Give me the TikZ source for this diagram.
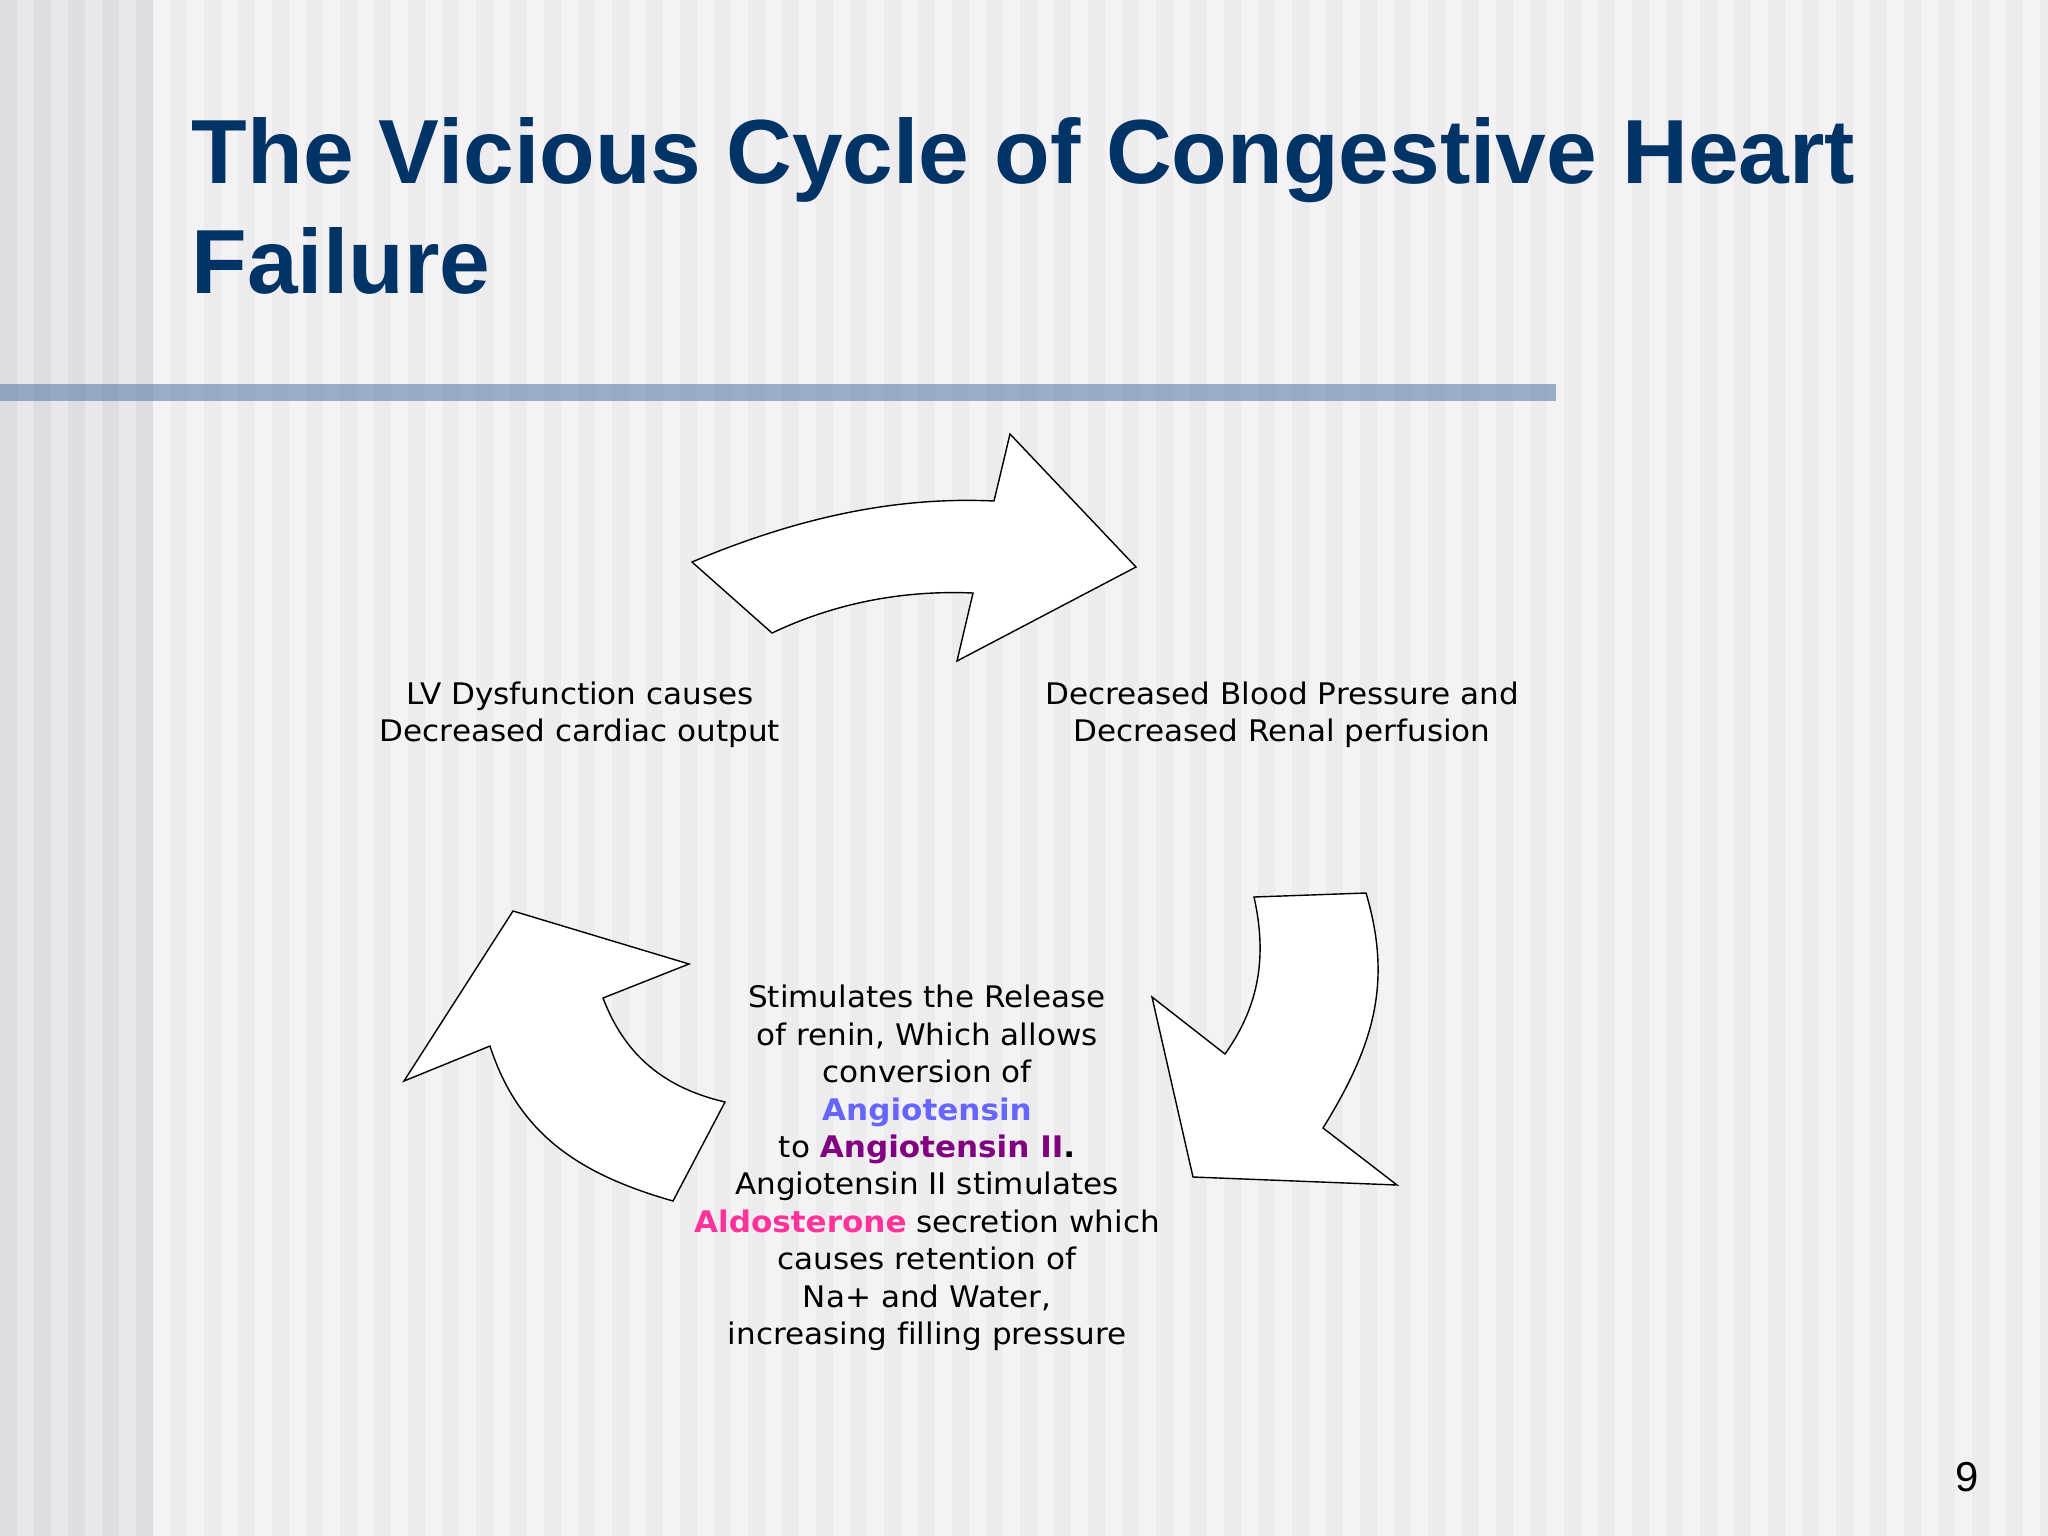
\documentclass[tikz,border=0pt]{standalone}
\usepackage{fontspec}
\setmainfont{DejaVu Sans}[FakeStretch=1.045, Ligatures=NoCommon]
\newfontfamily\titlefont{Liberation Sans}
\usepackage{tikz}
\usetikzlibrary{positioning}
\usepackage{xcolor}
\definecolor{leftdark}{HTML}{DEDDE1}
\definecolor{leftlight}{HTML}{E9E7EB}
\definecolor{stripelight}{HTML}{F4F2F5}
\definecolor{stripemid}{HTML}{EDEBEE}
\definecolor{titleblue}{HTML}{003366}
\definecolor{rulecolor}{HTML}{5B7FAD}
\definecolor{angioblue}{HTML}{6666FF}
\definecolor{angiopurple}{HTML}{800080}
\definecolor{aldopink}{HTML}{FF3399}

\begin{document}
\begin{tikzpicture}[
    x=0.01cm, y=-0.01cm,
    titletext/.style={anchor=base west, inner sep=0pt, text=titleblue,
                      font=\titlefont\bfseries\fontsize{25.9pt}{31.3pt}\selectfont},
    celltext/.style={align=center, inner sep=0pt,
                     font=\fontsize{8.45pt}{10.65pt}\selectfont},
    cyclearrow/.style={draw=black, fill=white, line width=0.4pt, line join=miter},
    pagenum/.style={inner sep=0pt, font=\titlefont\fontsize{11.9pt}{14pt}\selectfont}
]
    % slide background
    \useasboundingbox (0,0) rectangle (2048,1536);
    \fill[leftlight] (0,0) rectangle (153,1536);
    \foreach \x in {0,34,...,136}
        \fill[leftdark] (\x,0) rectangle ++(17,1536);
    \fill[stripelight] (153,0) rectangle (2048,1536);
    \foreach \x in {170,204,...,2040}
        \fill[stripemid] (\x,0) rectangle ++(17,1536);
    \fill[rulecolor, opacity=0.6] (0,384) rectangle (1556,401);

    % title
    \node[titletext] (title1) at (191,183) {The Vicious Cycle of Congestive Heart};
    \node[titletext] (title2) at (191,293) {Failure};

    % the three curved arrows
    \draw[cyclearrow] (692,562) .. controls (789,521) and (889,496) .. (994,501)
        -- (1010,434) -- (1136,567) -- (957,661) -- (973,593)
        .. controls (903,590) and (835,603) .. (772,633) -- cycle;
    \draw[cyclearrow] (1366,893) .. controls (1393,984) and (1373,1047) .. (1323,1128)
        -- (1397,1185) -- (1193,1177) -- (1152,997) -- (1225,1054)
        .. controls (1260,1005) and (1267,955) .. (1254,897) -- cycle;
    \draw[cyclearrow] (513,911) -- (689,964) -- (603,998)
        .. controls (625,1056) and (665,1088) .. (725,1102) -- (673,1201)
        .. controls (582,1175) and (519,1136) .. (490,1046) -- (404,1081) -- cycle;

    % stages of the cycle
    \node[celltext] (lvdys) at (580,715) {LV Dysfunction causes\\Decreased cardiac output};
    \node[celltext] (lowbp) at (1282,715) {Decreased Blood Pressure and\\Decreased Renal perfusion};
    \node[celltext] (renin) at (927,1168) {Stimulates the Release\\
        of renin, Which allows\\
        conversion of\\
        \textbf{\textcolor{angioblue}{Angiotensin}}\\
        to \textbf{\textcolor{angiopurple}{Angiotensin II}.}\\
        Angiotensin II stimulates\\
        \textbf{\textcolor{aldopink}{Aldosterone}} secretion which\\
        causes retention of\\
        Na+ and Water,\\
        increasing filling pressure};

    \node[pagenum] (pageno) at (1967,1477) {9};
\end{tikzpicture}
\end{document}
